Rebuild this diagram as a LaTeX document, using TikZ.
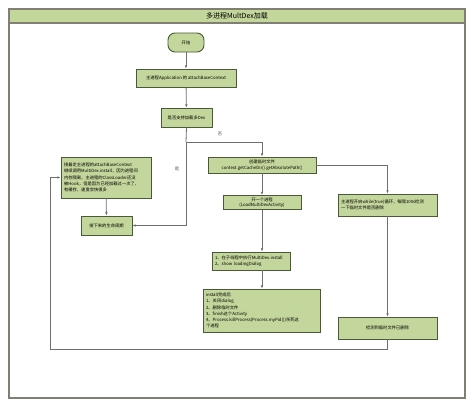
\documentclass[tikz,border=0pt]{standalone}
\usepackage{fontspec}
\newfontfamily\cjk{Noto Sans CJK SC}
\usetikzlibrary{arrows.meta}
\definecolor{boxfill}{HTML}{C3D69B}
\definecolor{boxline}{HTML}{4A5A38}
\definecolor{frameline}{HTML}{807F72}
\definecolor{conn}{HTML}{6E6E6E}
\tikzset{
  box/.style={draw=boxline, line width=0.9pt, fill=boxfill, inner xsep=3pt, inner ysep=0pt,
    font=\cjk\fontsize{4.3}{6.2}\selectfont, align=center},
  conn/.style={draw=conn, line width=0.8pt},
  arr/.style={conn, -{Latex[length=3.2pt,width=2.6pt]}},
  lbl/.style={font=\cjk\fontsize{4.3}{5}\selectfont, text=black!70}
}
\begin{document}
\begin{tikzpicture}[x=1pt,y=-1pt]
\useasboundingbox (0,0) rectangle (474,407);
% frame and title
\path[fill=white] (0,0) rectangle (474,407);
\draw[frameline, line width=1.5pt, fill=white] (9,9) rectangle (465,398);
\draw[frameline, line width=1.5pt, fill=boxfill] (9,9) rectangle (465,23);
\node[font=\cjk\fontsize{7}{8}\selectfont] (title) at (237,16) {多进程MultDex加载};
% nodes
\node[box, rounded corners=7pt, minimum width=36pt, minimum height=19pt] (start) at (186,42.5) {开始};
\node[box, minimum width=100pt, minimum height=18pt] (app) at (186,78) {主进程Application 的 attachBaseContext};
\node[box, minimum width=51pt, minimum height=19pt] (q) at (186.5,117.5) {是否支持加载多Dex};
\node[box, text width=84pt, align=left, minimum height=41pt] (left) at (106,177.5) {接着走主进程的attachBaseContext\\继续调用MultiDex.install，因为进程间\\内存隔离，主进程的ClassLoader还没\\被Hook，但是因为已经加载过一次了，\\有缓存，速度会快很多};
\node[box, minimum width=51pt, minimum height=19pt] (life) at (106.5,225.5) {接下来的生命周期};
\node[box, minimum width=108pt, minimum height=16pt, font=\cjk\fontsize{4.3}{5.6}\selectfont] (tmp) at (262,165) {创建临时文件\\context.getCacheDir().getAbsolutePath()};
\node[box, minimum width=78pt, minimum height=14pt, font=\cjk\fontsize{4.3}{5.4}\selectfont] (proc) at (262,202.5) {开一个进程\\(LoadMultiDexActivity)};
\node[box, text width=93pt, align=left, minimum height=22pt] (loop) at (387.5,205) {主进程开启while(true)循环，每隔100s检测\\一下临时文件是否删除};
\node[box, text width=72pt, align=left, minimum height=18pt] (inst) at (251,261) {1、在子线程中执行MultiDex.install\\2、show loadingDialog};
\node[box, text width=111pt, align=left, minimum height=43pt] (done) at (261.5,310.5) {install完成后\\1、关闭dialog\\2、删除临时文件\\3、finish这个Activity\\4、Process.killProcess(Process.myPid())杀死这\\个进程};
\node[box, minimum width=99pt, minimum height=22pt] (del) at (387.5,328) {检测到临时文件已删除};
% connectors
\coordinate (j1) at (186,142);
\coordinate (c1) at (50,349);
\draw[arr] (start) -- (app);
\draw[arr] (app) -- (q);
\draw[conn] (q.south) -- (j1);
\draw[arr] (j1) -| (tmp.north);
\draw[arr] (j1) |- (life.east);
\draw[arr] (left) -- (life);
\draw[arr] (tmp.east) -| (loop.north);
\draw[arr] (tmp) -- (proc);
\draw[arr] (proc.south) -- (proc.south |- inst.north);
\draw[arr] (proc.south |- inst.south) -- (proc.south |- done.north);
\draw[arr] (loop) -- (del);
\draw[arr] (del.south) |- (c1) |- (left.west);
% labels
\node[lbl] (no) at (220,134) {否};
\node[lbl] (yes) at (177,169) {是};
\end{tikzpicture}
\end{document}
